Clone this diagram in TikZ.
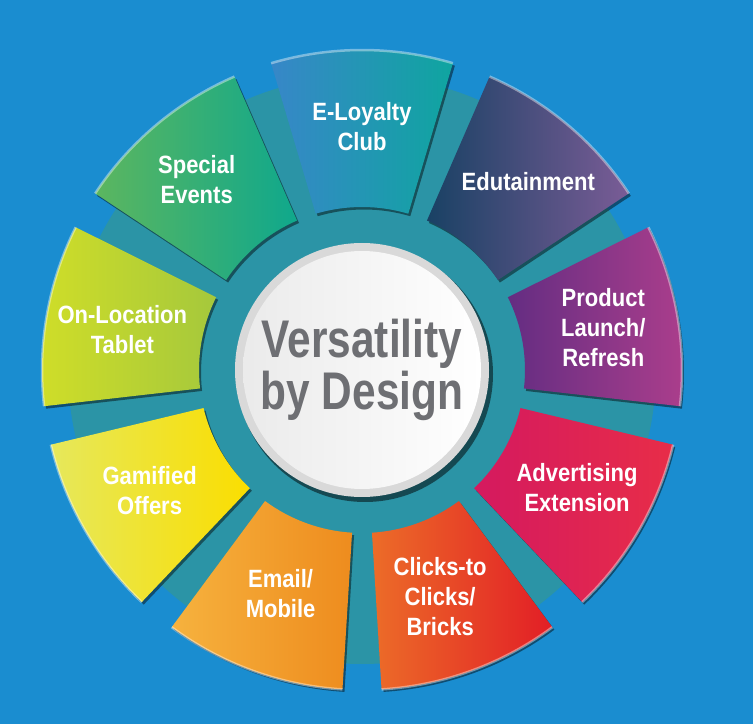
\documentclass[tikz,border=0pt]{standalone}
\usepackage{fontspec}
\setmainfont{Liberation Sans}[FakeStretch=0.88]
\newfontfamily\hubfont{Liberation Sans}[FakeStretch=0.8]
\usepackage{xcolor}
\usepackage{tikz}
\usetikzlibrary{positioning}
\definecolor{bgblue}{RGB}{26,141,208}
\definecolor{ringteal}{RGB}{43,148,166}
\definecolor{hubgrey}{RGB}{110,111,115}
\newcommand{\rin}{163pt}
\newcommand{\rout}{320pt}
\newcommand{\wedgepath}[1]{(#1-16.5:\rin) -- (#1-16.5:\rout) arc[start angle=#1-16.5, end angle=#1+16.5, radius=\rout] -- (#1+16.5:\rin) arc[start angle=#1+16.5, end angle=#1-16.5, radius=\rin] -- cycle}
\newcommand{\rimpath}[1]{(#1-16.5:\rout) arc[start angle=#1-16.5, end angle=#1+16.5, radius=\rout]}

\begin{document}
\begin{tikzpicture}[
    seglabel/.style={text=white, align=center, font=\bfseries\fontsize{25}{30}\selectfont, inner sep=0pt},
    hublabel/.style={text=hubgrey, align=center, font=\hubfont\bfseries\fontsize{53}{52}\selectfont, inner sep=0pt},
    segshadow/.style={fill=black, opacity=.45, xshift=2pt, yshift=-2.5pt},
    rim/.style={draw=white, draw opacity=.4, line width=2.5pt}
  ]
  % background
  \fill[bgblue] (0,0) rectangle (753pt,724pt);
  \useasboundingbox (0,0) rectangle (753pt,724pt);

  \begin{scope}[shift={(362pt,354pt)}]
  % teal ring
  \fill[ringteal] (0,0) circle[radius=294pt];

  % shadows
  \foreach \a in {90,50,10,-30,-70,-110,-150,170,130}
    \fill[segshadow] \wedgepath{\a};

  % segments
  \shade[left color={rgb,255:red,55;green,135;blue,200}, right color={rgb,255:red,15;green,165;blue,160}] \wedgepath{90};
  \shade[shading angle=-45, left color={rgb,255:red,25;green,65;blue,100}, right color={rgb,255:red,122;green,92;blue,150}] \wedgepath{50};
  \shade[shading angle=-90, left color={rgb,255:red,100;green,45;blue,130}, right color={rgb,255:red,172;green,62;blue,140}] \wedgepath{10};
  \shade[shading angle=-90, left color={rgb,255:red,212;green,25;blue,95}, right color={rgb,255:red,232;green,45;blue,72}] \wedgepath{-30};
  \shade[left color={rgb,255:red,236;green,108;blue,40}, right color={rgb,255:red,226;green,30;blue,38}] \wedgepath{-70};
  \shade[left color={rgb,255:red,246;green,178;blue,62}, right color={rgb,255:red,238;green,140;blue,30}] \wedgepath{-110};
  \shade[shading angle=-45, left color={rgb,255:red,230;green,232;blue,92}, right color={rgb,255:red,250;green,222;blue,0}] \wedgepath{-150};
  \shade[shading angle=-90, left color={rgb,255:red,208;green,222;blue,40}, right color={rgb,255:red,165;green,200;blue,60}] \wedgepath{170};
  \shade[shading angle=-45, left color={rgb,255:red,92;green,182;blue,95}, right color={rgb,255:red,15;green,168;blue,140}] \wedgepath{130};

  % bevel rims
  \foreach \a in {90,50,10,-30,-70,-110,-150,170,130}
    \draw[rim] \rimpath{\a};

  % labels
  \node[seglabel] (eloyalty) at (90:243pt) {E-Loyalty\\Club};
  \node[seglabel] (edutain) at (48.5:251pt) {Edutainment};
  \node[seglabel] (launch) at (10:245pt) {Product\\Launch/\\Refresh};
  \node[seglabel] (advert) at (-28.6:245pt) {Advertising\\Extension};
  \node[seglabel] (clicks) at (-71:240pt) {Clicks-to\\Clicks/\\Bricks};
  \node[seglabel] (email) at (-110:238pt) {Email/\\Mobile};
  \node[seglabel] (gamified) at (-150.5:244pt) {Gamified\\Offers};
  \node[seglabel] (tablet) at (170.5:243pt) {On-Location\\Tablet};
  \node[seglabel] (events) at (131:252pt) {Special\\Events};

  % hub
  \fill[black, opacity=.5] (3pt,-4pt) circle[radius=128pt];
  \fill[gray!30] (0,0) circle[radius=127pt];
  \shade[shading angle=-45, left color=gray!16, right color=white] (0,0) circle[radius=119pt];
  \node[hublabel] (hub) at (0,0) {Versatility\\by Design};
  \end{scope}
\end{tikzpicture}
\end{document}
